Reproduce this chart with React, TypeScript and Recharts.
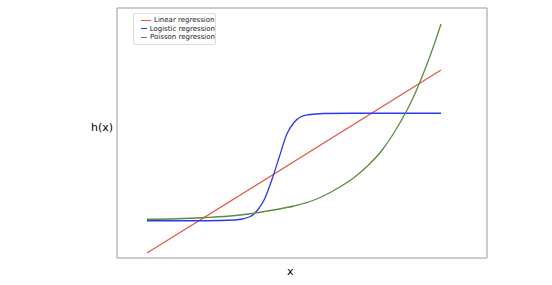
import React from 'react';
import { LineChart, Line, XAxis, YAxis, ReferenceArea } from 'recharts';

// values
const linearX = [0, 10];
const linearY = [0.2, 7.52];

const logisticX = [0, 1, 2, 3, 3.5, 3.75, 4, 4.25, 4.5, 4.75, 5, 5.25, 5.5, 6, 7, 8, 9, 10];
const logisticY = [1.49, 1.49, 1.49, 1.52, 1.65, 1.9, 2.36, 3.14, 4.04, 4.94, 5.42, 5.66, 5.73, 5.78, 5.79, 5.79, 5.79, 5.79];

const poissonX = [0, 1, 2, 3, 3.5, 4, 4.5, 5, 5.5, 6, 6.5, 7, 7.5, 8, 8.5, 9, 9.5, 9.75, 10];
const poissonY = [1.55, 1.57, 1.62, 1.7, 1.77, 1.86, 1.96, 2.08, 2.24, 2.48, 2.8, 3.18, 3.68, 4.32, 5.2, 6.28, 7.68, 8.48, 9.36];

const X_DOMAIN: [number, number] = [-1.02, 11.565];
const Y_DOMAIN: [number, number] = [0, 10];

const zip = (xs: number[], ys: number[]) => xs.map((x, i) => ({ x, y: ys[i] }));

const series = [
  { name: 'Linear regression', color: '#e5574a', data: zip(linearX, linearY) },
  { name: 'Logistic regression', color: '#2b3af2', data: zip(logisticX, logisticY) },
  { name: 'Poisson regression', color: '#5a8c3e', data: zip(poissonX, poissonY) },
];

const font = '"DejaVu Sans", sans-serif';

const App: React.FC = () => {
  return (
    <div style={{ position: 'absolute', left: 0, top: 0, width: 552, height: 285, background: '#fff' }}>
      <LineChart width={552} height={285} margin={{ top: 8, right: 65, left: 117, bottom: 27 }}>
        <XAxis type="number" dataKey="x" domain={X_DOMAIN} hide allowDataOverflow />
        <YAxis type="number" dataKey="y" domain={Y_DOMAIN} hide allowDataOverflow />
        <ReferenceArea
          x1={X_DOMAIN[0]}
          x2={X_DOMAIN[1]}
          y1={Y_DOMAIN[0]}
          y2={Y_DOMAIN[1]}
          fill="none"
          stroke="#9a9a9a"
          strokeWidth={1}
          ifOverflow="visible"
        />
        {series.map((s) => (
          <Line
            key={s.name}
            data={s.data}
            dataKey="y"
            type="monotone"
            stroke={s.color}
            strokeWidth={1.3}
            dot={false}
            isAnimationActive={false}
          />
        ))}
      </LineChart>

      <div style={{
        position: 'absolute', left: 133, top: 13, width: 83, height: 32,
        border: '1px solid #ddd', borderRadius: 2, background: '#fff',
        fontFamily: font, fontSize: 7, color: '#222', boxSizing: 'border-box',
        paddingTop: 2,
      }}>
        {series.map((s) => (
          <div key={s.name} style={{ display: 'flex', alignItems: 'center', height: 8.5, whiteSpace: 'nowrap' }}>
            <span style={{ display: 'inline-block', width: 10, height: 1.3, background: s.color, marginLeft: 7, marginRight: 3 }} />
            {s.name}
          </div>
        ))}
      </div>

      <div style={{ position: 'absolute', left: 91, top: 121, fontFamily: font, fontSize: 11, color: '#000' }}>h(x)</div>
      <div style={{ position: 'absolute', left: 287, top: 265, fontFamily: font, fontSize: 11, color: '#000' }}>x</div>
    </div>
  );
};

export default App;
